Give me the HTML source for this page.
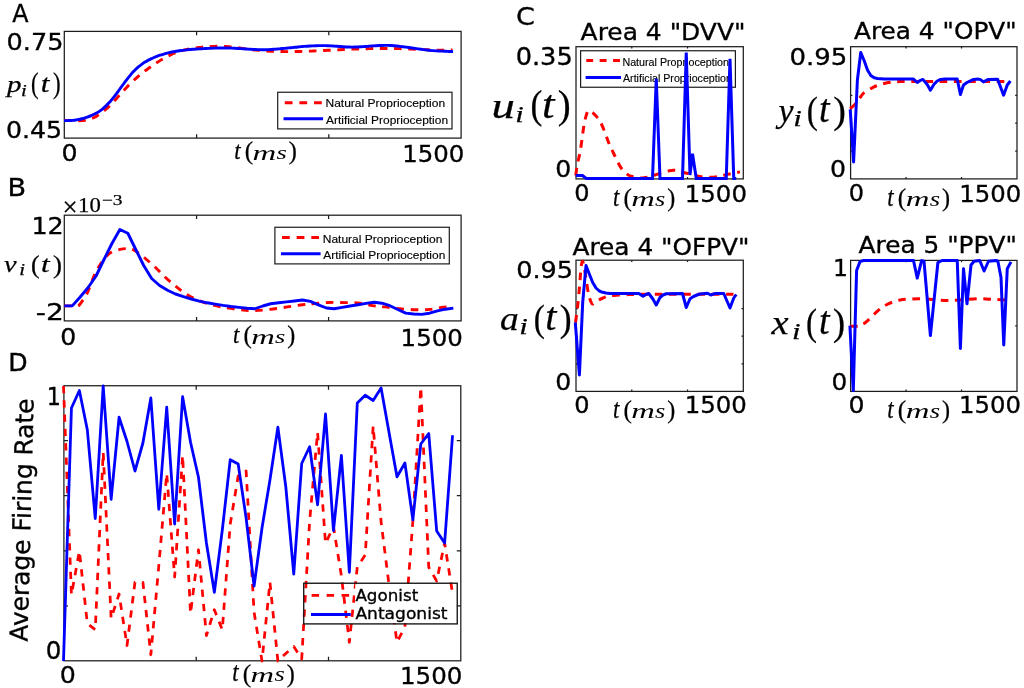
<!DOCTYPE html>
<html lang="en">
<head>
<meta charset="utf-8">
<title>Figure: natural vs artificial proprioception</title>
<style>
html,body{margin:0;padding:0;background:#fff;}
body{width:1024px;height:688px;overflow:hidden;}
svg{display:block;}
.sans{font-family:"DejaVu Sans","Liberation Sans",sans-serif;fill:#000;stroke:#000;stroke-width:0.35px;}
.arial{font-family:"Liberation Sans","DejaVu Sans",sans-serif;fill:#000;stroke:#000;stroke-width:0.15px;}
.math{font-family:"Liberation Serif","DejaVu Serif",serif;fill:#000;stroke:#000;stroke-width:0.25px;}
.thin{stroke-width:0;}
.it{font-style:italic;}
.up{font-style:normal;}
</style>
</head>
<body>
<svg width="1024" height="688" viewBox="0 0 1024 688">
<rect width="1024" height="688" fill="#fff"/>
<rect x="64.3" y="31.4" width="396.8" height="106.7" fill="none" stroke="#1c1c1c" stroke-width="1.25"/>
<path d="M196.6,138.1 v-3.8 M196.6,31.4 v3.8 M328.8,138.1 v-3.8 M328.8,31.4 v3.8" stroke="#1c1c1c" stroke-width="1.25" fill="none"/>
<path d="M64,120.56 C64.5,120.55 66,120.51 67,120.51 C68,120.51 69,120.54 70,120.57 C71,120.59 72,120.64 73,120.67 C74,120.7 75,120.73 76,120.75 C77,120.76 78,120.77 79,120.75 C80,120.73 81,120.69 82,120.61 C83,120.54 84,120.43 85,120.28 C86,120.12 87,119.93 88,119.68 C89,119.43 90,119.13 91,118.76 C92,118.4 93,117.97 94,117.49 C95,117.01 96,116.47 97,115.88 C98,115.29 99,114.64 100,113.94 C101,113.25 102,112.5 103,111.7 C104,110.91 105,110.07 106,109.18 C107,108.29 108,107.35 109,106.38 C110,105.41 111,104.39 112,103.36 C113,102.32 114,101.24 115,100.16 C116,99.08 117,97.97 118,96.87 C119,95.76 120,94.64 121,93.53 C122,92.42 123,91.31 124,90.22 C125,89.13 126,88.05 127,87 C128,85.95 129,84.92 130,83.93 C131,82.93 132,81.97 133,81.03 C134,80.1 135,79.19 136,78.31 C137,77.42 138,76.57 139,75.73 C140,74.89 141,74.08 142,73.28 C143,72.49 144,71.71 145,70.95 C146,70.19 147,69.45 148,68.72 C149,67.99 150,67.28 151,66.58 C152,65.87 153,65.18 154,64.51 C155,63.83 156,63.17 157,62.52 C158,61.87 159,61.24 160,60.63 C161,60.02 162,59.42 163,58.85 C164,58.27 165,57.72 166,57.18 C167,56.65 168,56.13 169,55.64 C170,55.15 171,54.68 172,54.24 C173,53.8 174,53.38 175,52.99 C176,52.6 177,52.23 178,51.89 C179,51.55 180,51.23 181,50.93 C182,50.64 183,50.37 184,50.11 C185,49.86 186,49.62 187,49.4 C188,49.19 189,48.99 190,48.8 C191,48.61 192,48.45 193,48.29 C194,48.13 195,47.99 196,47.85 C197,47.72 198,47.59 199,47.48 C200,47.36 201,47.25 202,47.15 C203,47.05 204,46.96 205,46.88 C206,46.79 207,46.72 208,46.65 C209,46.58 210,46.53 211,46.48 C212,46.43 213,46.39 214,46.36 C215,46.34 216,46.32 217,46.31 C218,46.31 219,46.31 220,46.33 C221,46.34 222,46.37 223,46.41 C224,46.45 225,46.51 226,46.57 C227,46.63 228,46.71 229,46.8 C230,46.89 231,46.98 232,47.09 C233,47.19 234,47.31 235,47.42 C236,47.54 237,47.67 238,47.79 C239,47.92 240,48.06 241,48.19 C242,48.32 243,48.46 244,48.59 C245,48.73 246,48.86 247,49 C248,49.13 249,49.26 250,49.39 C251,49.51 252,49.64 253,49.75 C254,49.87 255,49.98 256,50.08 C257,50.18 258,50.28 259,50.37 C260,50.46 261,50.55 262,50.63 C263,50.71 264,50.78 265,50.85 C266,50.92 267,50.98 268,51.04 C269,51.1 270,51.15 271,51.2 C272,51.25 273,51.29 274,51.33 C275,51.37 276,51.4 277,51.43 C278,51.46 279,51.49 280,51.51 C281,51.53 282,51.55 283,51.56 C284,51.58 285,51.58 286,51.59 C287,51.6 288,51.6 289,51.6 C290,51.59 291,51.59 292,51.58 C293,51.57 294,51.56 295,51.55 C296,51.53 297,51.51 298,51.49 C299,51.47 300,51.45 301,51.43 C302,51.4 303,51.37 304,51.34 C305,51.31 306,51.28 307,51.25 C308,51.21 309,51.18 310,51.14 C311,51.1 312,51.06 313,51.02 C314,50.98 315,50.94 316,50.89 C317,50.85 318,50.8 319,50.76 C320,50.71 321,50.66 322,50.61 C323,50.57 324,50.52 325,50.47 C326,50.42 327,50.37 328,50.32 C329,50.27 330,50.22 331,50.16 C332,50.11 333,50.06 334,50.01 C335,49.96 336,49.91 337,49.86 C338,49.81 339,49.76 340,49.71 C341,49.66 342,49.61 343,49.57 C344,49.52 345,49.47 346,49.43 C347,49.38 348,49.34 349,49.29 C350,49.25 351,49.21 352,49.17 C353,49.13 354,49.09 355,49.05 C356,49.02 357,48.98 358,48.95 C359,48.91 360,48.88 361,48.85 C362,48.82 363,48.79 364,48.77 C365,48.74 366,48.71 367,48.69 C368,48.67 369,48.64 370,48.62 C371,48.6 372,48.59 373,48.57 C374,48.55 375,48.54 376,48.53 C377,48.52 378,48.51 379,48.5 C380,48.49 381,48.48 382,48.48 C383,48.48 384,48.48 385,48.48 C386,48.48 387,48.48 388,48.48 C389,48.49 390,48.5 391,48.51 C392,48.51 393,48.53 394,48.54 C395,48.55 396,48.57 397,48.59 C398,48.61 399,48.63 400,48.65 C401,48.68 402,48.7 403,48.73 C404,48.76 405,48.79 406,48.83 C407,48.86 408,48.9 409,48.94 C410,48.98 411,49.02 412,49.06 C413,49.11 414,49.16 415,49.21 C416,49.26 417,49.31 418,49.36 C419,49.41 420,49.46 421,49.52 C422,49.57 423,49.62 424,49.67 C425,49.72 426,49.77 427,49.81 C428,49.86 429,49.9 430,49.94 C431,49.98 432,50.01 433,50.04 C434,50.07 435,50.09 436,50.11 C437,50.13 438,50.14 439,50.14 C440,50.15 441,50.14 442,50.13 C443,50.12 444,50.1 445,50.08 C446,50.05 447,50.02 448,50 C449,49.97 450.25,49.93 451,49.91 C451.75,49.88 452.25,49.87 452.5,49.86" fill="none" stroke="#ff0000" stroke-width="2.9" stroke-linejoin="round" stroke-dasharray="7.6,6.6"/>
<path d="M64,120.6 C64.5,120.61 66,120.66 67,120.65 C68,120.65 69,120.62 70,120.57 C71,120.52 72,120.44 73,120.34 C74,120.24 75,120.12 76,119.97 C77,119.82 78,119.64 79,119.44 C80,119.24 81,119.01 82,118.75 C83,118.49 84,118.21 85,117.9 C86,117.58 87,117.24 88,116.87 C89,116.5 90,116.1 91,115.67 C92,115.24 93,114.78 94,114.29 C95,113.8 96,113.28 97,112.71 C98,112.13 99,111.52 100,110.83 C101,110.15 102,109.4 103,108.58 C104,107.76 105,106.88 106,105.92 C107,104.96 108,103.92 109,102.83 C110,101.73 111,100.56 112,99.35 C113,98.14 114,96.85 115,95.55 C116,94.24 117,92.88 118,91.52 C119,90.16 120,88.76 121,87.38 C122,86.01 123,84.62 124,83.27 C125,81.92 126,80.59 127,79.3 C128,78.01 129,76.76 130,75.56 C131,74.36 132,73.2 133,72.1 C134,71.01 135,69.97 136,69.01 C137,68.05 138,67.16 139,66.34 C140,65.51 141,64.77 142,64.07 C143,63.36 144,62.72 145,62.11 C146,61.49 147,60.92 148,60.37 C149,59.83 150,59.32 151,58.84 C152,58.35 153,57.9 154,57.48 C155,57.05 156,56.65 157,56.27 C158,55.89 159,55.54 160,55.21 C161,54.87 162,54.56 163,54.27 C164,53.97 165,53.69 166,53.43 C167,53.16 168,52.92 169,52.69 C170,52.45 171,52.24 172,52.03 C173,51.83 174,51.64 175,51.46 C176,51.28 177,51.12 178,50.96 C179,50.81 180,50.67 181,50.53 C182,50.4 183,50.27 184,50.16 C185,50.04 186,49.93 187,49.83 C188,49.73 189,49.64 190,49.55 C191,49.46 192,49.38 193,49.3 C194,49.23 195,49.15 196,49.08 C197,49.01 198,48.95 199,48.88 C200,48.82 201,48.76 202,48.7 C203,48.64 204,48.58 205,48.52 C206,48.47 207,48.41 208,48.36 C209,48.31 210,48.26 211,48.22 C212,48.18 213,48.14 214,48.11 C215,48.07 216,48.05 217,48.02 C218,48 219,47.98 220,47.97 C221,47.96 222,47.95 223,47.95 C224,47.95 225,47.96 226,47.98 C227,47.99 228,48.02 229,48.05 C230,48.08 231,48.11 232,48.16 C233,48.2 234,48.25 235,48.31 C236,48.36 237,48.42 238,48.48 C239,48.54 240,48.61 241,48.67 C242,48.74 243,48.8 244,48.87 C245,48.94 246,49 247,49.07 C248,49.13 249,49.2 250,49.25 C251,49.31 252,49.37 253,49.42 C254,49.47 255,49.52 256,49.56 C257,49.59 258,49.63 259,49.65 C260,49.68 261,49.7 262,49.7 C263,49.71 264,49.71 265,49.69 C266,49.68 267,49.66 268,49.62 C269,49.59 270,49.54 271,49.49 C272,49.43 273,49.37 274,49.3 C275,49.23 276,49.15 277,49.07 C278,48.99 279,48.9 280,48.81 C281,48.72 282,48.62 283,48.52 C284,48.42 285,48.31 286,48.21 C287,48.11 288,48 289,47.89 C290,47.79 291,47.68 292,47.58 C293,47.47 294,47.37 295,47.27 C296,47.16 297,47.06 298,46.97 C299,46.87 300,46.77 301,46.68 C302,46.59 303,46.51 304,46.42 C305,46.34 306,46.26 307,46.19 C308,46.12 309,46.05 310,45.99 C311,45.93 312,45.87 313,45.83 C314,45.78 315,45.74 316,45.7 C317,45.67 318,45.64 319,45.63 C320,45.61 321,45.6 322,45.6 C323,45.61 324,45.62 325,45.64 C326,45.66 327,45.69 328,45.73 C329,45.77 330,45.83 331,45.89 C332,45.95 333,46.02 334,46.09 C335,46.17 336,46.25 337,46.32 C338,46.4 339,46.48 340,46.55 C341,46.63 342,46.7 343,46.77 C344,46.83 345,46.89 346,46.94 C347,46.99 348,47.03 349,47.05 C350,47.08 351,47.09 352,47.09 C353,47.08 354,47.07 355,47.04 C356,47.01 357,46.97 358,46.93 C359,46.88 360,46.83 361,46.77 C362,46.71 363,46.64 364,46.57 C365,46.5 366,46.42 367,46.35 C368,46.27 369,46.2 370,46.12 C371,46.05 372,45.97 373,45.9 C374,45.83 375,45.77 376,45.71 C377,45.65 378,45.59 379,45.55 C380,45.5 381,45.46 382,45.44 C383,45.41 384,45.39 385,45.39 C386,45.39 387,45.4 388,45.42 C389,45.45 390,45.49 391,45.55 C392,45.6 393,45.67 394,45.75 C395,45.83 396,45.92 397,46.01 C398,46.11 399,46.22 400,46.34 C401,46.45 402,46.58 403,46.71 C404,46.84 405,46.97 406,47.11 C407,47.25 408,47.39 409,47.53 C410,47.68 411,47.83 412,47.97 C413,48.12 414,48.27 415,48.41 C416,48.56 417,48.71 418,48.85 C419,48.99 420,49.13 421,49.27 C422,49.4 423,49.54 424,49.66 C425,49.79 426,49.91 427,50.02 C428,50.14 429,50.25 430,50.34 C431,50.44 432,50.53 433,50.61 C434,50.69 435,50.76 436,50.83 C437,50.89 438,50.95 439,51 C440,51.06 441,51.1 442,51.15 C443,51.2 444,51.24 445,51.28 C446,51.32 447,51.36 448,51.4 C449,51.44 450.15,51.48 451,51.51 C451.85,51.55 452.75,51.59 453.1,51.6" fill="none" stroke="#0000ff" stroke-width="2.9" stroke-linejoin="round"/>
<rect x="277.7" y="92.25" width="174.3" height="36.65" fill="#fff" stroke="#1c1c1c" stroke-width="1.2"/>
<line x1="284.75" y1="102.75" x2="322.25" y2="102.75" stroke="#ff0000" stroke-width="3" stroke-dasharray="7.75,6.9"/>
<line x1="283.5" y1="118.75" x2="323.1" y2="118.75" stroke="#0000ff" stroke-width="2.8"/>
<rect x="64.3" y="215.2" width="396.8" height="105.7" fill="none" stroke="#1c1c1c" stroke-width="1.25"/>
<path d="M196.6,320.9 v-3.8 M196.6,215.2 v3.8 M328.6,320.9 v-3.8 M328.6,215.2 v3.8" stroke="#1c1c1c" stroke-width="1.25" fill="none"/>
<path d="M64.3,305.9 C66.25,305.9 73.59,305.95 76,305.9 C78.41,305.85 77.58,306.58 78.75,305.6 C79.92,304.62 81.54,302.18 83,300 C84.46,297.82 85.5,296.88 87.5,292.5 C89.5,288.12 92.5,278.96 95,273.75 C97.5,268.54 100,264.69 102.5,261.25 C105,257.81 107.08,255.07 110,253.1 C112.92,251.12 117,250.12 120,249.4 C123,248.68 125.5,248.53 128,248.75 C130.5,248.97 132.17,249.17 135,250.75 C137.83,252.33 141.67,255.54 145,258.25 C148.33,260.96 151.67,263.88 155,267 C158.33,270.12 161.67,273.88 165,277 C168.33,280.12 171.67,283.04 175,285.75 C178.33,288.46 181.25,290.88 185,293.25 C188.75,295.62 192.92,298.04 197.5,300 C202.08,301.96 207.92,303.75 212.5,305 C217.08,306.25 220.42,306.73 225,307.5 C229.58,308.27 235.21,309.08 240,309.6 C244.79,310.12 248.75,310.63 253.75,310.6 C258.75,310.57 264.38,310.02 270,309.4 C275.62,308.78 282.08,307.67 287.5,306.9 C292.92,306.12 298.33,305.27 302.5,304.75 C306.67,304.23 308.25,304.12 312.5,303.75 C316.75,303.38 322.58,302.69 328,302.5 C333.42,302.31 339.67,302.5 345,302.6 C350.33,302.7 355.42,302.6 360,303.1 C364.58,303.6 368.33,304.97 372.5,305.6 C376.67,306.23 380.42,306.38 385,306.9 C389.58,307.42 394.79,308.27 400,308.75 C405.21,309.23 411.25,309.64 416.25,309.75 C421.25,309.86 425.83,309.77 430,309.4 C434.17,309.02 438.12,307.97 441.25,307.5 C444.38,307.03 447.5,306.75 448.75,306.6" fill="none" stroke="#ff0000" stroke-width="2.9" stroke-linejoin="round" stroke-dasharray="7.6,6.6"/>
<polyline points="64.3,305.9 72.24,305.9 80.18,297 88.12,287.5 96.06,276 104,259.5 111.94,243.5 119.88,229.5 127.82,233.25 135.76,249.5 143.7,265.5 151.64,278.5 159.58,285.5 167.52,290.3 175.46,294 183.4,296.6 191.34,299 199.28,301.2 207.22,302.8 215.16,304.1 223.1,305.4 231.04,306.5 238.98,307.4 246.92,308.2 254.86,308.75 262.8,306 270.74,303.75 278.68,302.8 286.62,301.9 294.56,301 302.5,300 310.44,301.4 318.38,304.8 326.32,308 334.26,308.75 342.2,307.4 350.14,306 358.08,304.7 366.02,303.4 373.96,302.25 381.9,303.2 389.84,305.7 397.78,309.5 405.72,313.1 413.66,314 421.6,314.4 429.54,313.2 437.48,310.8 445.42,309.2 453.36,308.1" fill="none" stroke="#0000ff" stroke-width="2.9" stroke-linejoin="round"/>
<rect x="274.9" y="227.25" width="174.4" height="36.65" fill="#fff" stroke="#1c1c1c" stroke-width="1.2"/>
<line x1="282" y1="237.5" x2="319.75" y2="237.5" stroke="#ff0000" stroke-width="3" stroke-dasharray="7.75,6.9"/>
<line x1="281" y1="253.75" x2="320.6" y2="253.75" stroke="#0000ff" stroke-width="2.8"/>
<rect x="63.9" y="385.75" width="396.9" height="275.05" fill="none" stroke="#1c1c1c" stroke-width="1.25"/>
<path d="M196.2,660.8 v-4 M196.2,385.75 v4 M328.5,660.8 v-4 M328.5,385.75 v4 M63.9,440.7 h4 M460.8,440.7 h-4 M63.9,495.7 h4 M460.8,495.7 h-4 M63.9,550.8 h4 M460.8,550.8 h-4 M63.9,605.8 h4 M460.8,605.8 h-4" stroke="#1c1c1c" stroke-width="1.25" fill="none"/>
<polyline points="63.5,386 71.44,594.75 79.38,551 87.32,623.5 95.26,629.75 103.2,452.25 111.14,618.5 119.08,594 127.02,645.5 134.96,582.25 142.9,582.25 150.84,654.75 158.78,566 166.72,473.5 174.66,577 182.6,455.5 190.54,613.5 198.48,549.75 206.42,635.5 214.36,609.75 222.3,629.75 230.24,524 238.18,476 246.12,471 254.06,612 262,661 269.94,582.25 277.88,661 285.82,653.5 293.76,646.5 301.7,659 309.64,521 317.58,432.25 325.52,543.5 333.46,526.5 341.4,576 349.34,642.25 357.28,567 365.22,555 373.16,426 381.1,522 389.04,585 396.98,642.25 404.92,627 412.86,521 420.8,387.25 428.74,567.25 436.68,581 444.62,543 452.56,593.5" fill="none" stroke="#ff0000" stroke-width="2.75" stroke-linejoin="round" stroke-dasharray="7.3,7.0"/>
<polyline points="63.5,661 71.44,408 79.38,390.5 87.32,429.75 95.26,518.5 103.2,386 111.14,499.25 119.08,417.25 127.02,441.5 134.96,471 142.9,443 150.84,398 158.78,509.25 166.72,407.25 174.66,524 182.6,396.75 190.54,442.25 198.48,477.25 206.42,543 214.36,592.25 222.3,530 230.24,459.75 238.18,464 246.12,518 254.06,586 262,528 269.94,480 277.88,427.25 285.82,487 293.76,574 301.7,463.5 309.64,446.75 317.58,504.75 325.52,414 333.46,530.5 341.4,455.5 349.34,572.25 357.28,403 365.22,395.25 373.16,400.5 381.1,388 389.04,432.5 396.98,476.75 404.92,463 412.86,519.75 420.8,444 428.74,433.5 436.68,531 444.62,543 452.56,435.25" fill="none" stroke="#0000ff" stroke-width="2.8" stroke-linejoin="round"/>
<rect x="303.7" y="583.25" width="153.55" height="40.65" fill="none" stroke="#1c1c1c" stroke-width="1.4"/>
<line x1="311.6" y1="595.4" x2="349.75" y2="595.4" stroke="#ff0000" stroke-width="2.8" stroke-dasharray="7.5,7.5"/>
<line x1="311" y1="614.4" x2="350.75" y2="614.4" stroke="#0000ff" stroke-width="3"/>
<rect x="355.2" y="584.2" width="65" height="20.3" fill="#fff"/>
<rect x="355.2" y="604" width="94.4" height="19" fill="#fff"/>
<g transform="translate(30.6,520.2) rotate(-88.52)"><text x="0" y="0" font-size="24.9" text-anchor="middle" class="sans">Average Firing Rate</text></g>
<rect x="580.6" y="50.75" width="154.8" height="36.5" fill="none" stroke="#1c1c1c" stroke-width="1.2"/>
<line x1="586.25" y1="60.6" x2="620" y2="60.6" stroke="#ff0000" stroke-width="3" stroke-dasharray="6.9,6.5"/>
<line x1="585.6" y1="77.5" x2="621" y2="77.5" stroke="#0000ff" stroke-width="3"/>
<g transform="matrix(0.9327 0 0 0.9500 622.400 65.725)"><text x="0" y="0" font-size="11.5" class="arial">Natural Proprioception</text></g>
<g transform="matrix(0.9274 0 0 0.9545 623.000 82.014)"><text x="0" y="0" font-size="11.5" class="arial">Artificial Proprioception</text></g>
<rect x="576" y="46.7" width="167.3" height="132.2" fill="none" stroke="#1c1c1c" stroke-width="1.25"/>
<path d="M631.77,178.9 v-1.8 M631.77,46.7 v1.8 M687.53,178.9 v-1.8 M687.53,46.7 v1.8" stroke="#1c1c1c" stroke-width="1.25" fill="none"/>
<path d="M575.75,175.5 C576.04,173.54 576.79,167.58 577.5,163.75 C578.21,159.92 579.27,156.46 580,152.5 C580.73,148.54 581.23,144.58 581.9,140 C582.57,135.42 583.23,129.25 584,125 C584.77,120.75 585.71,116.92 586.5,114.5 C587.29,112.08 587.75,110.83 588.75,110.5 C589.75,110.17 591.25,111.54 592.5,112.5 C593.75,113.46 595,114.79 596.25,116.25 C597.5,117.71 598.71,118.96 600,121.25 C601.29,123.54 602.65,126.67 604,130 C605.35,133.33 606.85,138.08 608.1,141.25 C609.35,144.42 610.35,146.5 611.5,149 C612.65,151.5 613.92,154 615,156.25 C616.08,158.5 616.96,160.53 618,162.5 C619.04,164.47 620.17,166.55 621.25,168.1 C622.33,169.65 623.46,170.75 624.5,171.8 C625.54,172.85 626.42,173.67 627.5,174.4 C628.58,175.13 629.75,175.72 631,176.2 C632.25,176.67 633.5,176.95 635,177.25 C636.5,177.55 638.5,177.91 640,178 C641.5,178.09 642.54,177.98 644,177.8 C645.46,177.62 646.92,177.37 648.75,176.9 C650.58,176.43 652.71,175.73 655,175 C657.29,174.27 659.79,173.27 662.5,172.5 C665.21,171.73 668.75,170.72 671.25,170.4 C673.75,170.08 675.42,170.25 677.5,170.6 C679.58,170.95 681.25,171.87 683.75,172.5 C686.25,173.13 689.79,173.72 692.5,174.4 C695.21,175.08 697.08,176.12 700,176.6 C702.92,177.07 706.67,177.31 710,177.25 C713.33,177.19 717.08,176.72 720,176.25 C722.92,175.78 724.17,175.12 727.5,174.4 C730.83,173.68 737.92,172.32 740,171.9" fill="none" stroke="#ff0000" stroke-width="3.0" stroke-linejoin="round" stroke-dasharray="7.6,6.6"/>
<polyline points="575.75,175.5 582.5,175.5 586.25,178.5 652.5,178.5 656.25,78.75 660,178.5 682.5,178.5 686.25,52.5 690,175 692.5,153.75 696.25,178.5 726.25,178.5 730,58.75 733.75,178.5 736.25,178.5" fill="none" stroke="#0000ff" stroke-width="3.0" stroke-linejoin="miter"/>
<rect x="850.6" y="46.7" width="166.4" height="132.2" fill="none" stroke="#1c1c1c" stroke-width="1.25"/>
<path d="M906.07,178.9 v-1.8 M906.07,46.7 v1.8 M961.53,178.9 v-1.8 M961.53,46.7 v1.8 M850.6,151.07 h1.8 M1017,151.07 h-1.8 M850.6,123.24 h1.8 M1017,123.24 h-1.8 M850.6,95.41 h1.8 M1017,95.41 h-1.8" stroke="#1c1c1c" stroke-width="1.25" fill="none"/>
<path d="M850.2,108.75 C851.08,107.92 853.78,105.71 855.5,103.75 C857.22,101.79 859.25,98.67 860.5,97 C861.75,95.33 861.92,94.83 863,93.75 C864.08,92.67 865.54,91.44 867,90.5 C868.46,89.56 870.25,88.85 871.75,88.1 C873.25,87.35 874.54,86.62 876,86 C877.46,85.38 878.67,84.93 880.5,84.4 C882.33,83.87 884.92,83.22 887,82.8 C889.08,82.38 890.83,82.1 893,81.9 C895.17,81.7 897.5,81.67 900,81.6 C902.5,81.53 900.83,81.52 908,81.5 C915.17,81.48 925.92,81.5 943,81.5 C960.08,81.5 999.25,81.5 1010.5,81.5" fill="none" stroke="#ff0000" stroke-width="3.0" stroke-linejoin="round" stroke-dasharray="7.6,6.6"/>
<polyline points="850.2,109.4 853.6,161.9 857.4,80 860.75,52.5 864.1,60.5 867.5,70 870.8,75.5 874.2,77.8 877.5,78.5 884,79 913.5,79 917.25,82.5 920.5,80.3 922.9,79.4 927.2,84.5 930.4,90.3 934,84.3 937.2,81 940.5,79.4 945,79 957.25,79 960.4,94.5 963.5,85 967,82.5 970.5,80.8 973.5,79.4 978.5,79.1 980.5,79.6 983.5,81.9 987,80 988.5,79.4 997.6,79.2 1003.6,95.2 1007.25,85 1010.4,81" fill="none" stroke="#0000ff" stroke-width="3.0" stroke-linejoin="round"/>
<rect x="576" y="260.2" width="167.3" height="131.2" fill="none" stroke="#1c1c1c" stroke-width="1.25"/>
<path d="M631.77,391.4 v-1.8 M631.77,260.2 v1.8 M687.53,391.4 v-1.8 M687.53,260.2 v1.8 M576,363.78 h1.8 M743.3,363.78 h-1.8 M576,336.16 h1.8 M743.3,336.16 h-1.8 M576,308.54 h1.8 M743.3,308.54 h-1.8" stroke="#1c1c1c" stroke-width="1.25" fill="none"/>
<path d="M575.5,322.5 C575.83,320 576.83,313.42 577.5,307.5 C578.17,301.58 578.92,293.58 579.5,287 C580.08,280.42 580.5,272.29 581,268 C581.5,263.71 581.95,261.25 582.5,261.25 C583.05,261.25 583.67,264.88 584.3,268 C584.92,271.12 585.51,275.5 586.25,280 C586.99,284.5 587.81,291.08 588.75,295 C589.69,298.92 590.86,302.25 591.9,303.5 C592.94,304.75 593.86,303.08 595,302.5 C596.14,301.92 597.42,300.75 598.75,300 C600.08,299.25 601.46,298.62 603,298 C604.54,297.38 605.83,296.72 608,296.25 C610.17,295.78 613.17,295.45 616,295.2 C618.83,294.95 619.33,294.91 625,294.75 C630.67,294.59 630.83,294.33 650,294.25 C669.17,294.17 725,294.25 740,294.25" fill="none" stroke="#ff0000" stroke-width="3.0" stroke-linejoin="round" stroke-dasharray="7.6,6.6"/>
<polyline points="575.3,322.5 579.4,375 582.7,302.5 586,265.6 589.3,274 592.7,282.5 596,288 599.3,291 602.7,292.3 606,293 610,293.5 638.75,293.5 643,296.25 646.5,294.2 648.75,293.5 652.9,299 656.25,305 660,297.5 663,295 666.25,293.75 682.5,293.5 686.25,307.5 690,298.75 693.5,296.5 697,295 700,294 707.5,293.25 710.75,295 714,293.8 716.25,293.5 723.75,293.5 730,308 733.75,298 736.25,294.5" fill="none" stroke="#0000ff" stroke-width="3.0" stroke-linejoin="round"/>
<rect x="850.6" y="260.4" width="166.4" height="131" fill="none" stroke="#1c1c1c" stroke-width="1.25"/>
<path d="M906.07,391.4 v-1.8 M906.07,260.4 v1.8 M961.53,391.4 v-1.8 M961.53,260.4 v1.8 M850.6,325.9 h1.8 M1017,325.9 h-1.8" stroke="#1c1c1c" stroke-width="1.25" fill="none"/>
<path d="M849.9,326.25 C851.25,326.25 856.15,326.46 858,326.25 C859.85,326.04 859.75,325.62 861,325 C862.25,324.38 863.83,323.75 865.5,322.5 C867.17,321.25 868.92,319.48 871,317.5 C873.08,315.52 875.67,312.6 878,310.6 C880.33,308.6 882.5,306.95 885,305.5 C887.5,304.05 890.5,302.82 893,301.9 C895.5,300.98 897.5,300.45 900,300 C902.5,299.55 904.5,299.41 908,299.2 C911.5,298.99 916.5,298.65 921,298.75 C925.5,298.85 930.42,299.49 935,299.8 C939.58,300.11 943.83,300.6 948.5,300.6 C953.17,300.6 958,300.11 963,299.8 C968,299.49 973.17,298.8 978.5,298.75 C983.83,298.7 989.58,299.25 995,299.5 C1000.42,299.75 1008.33,300.12 1011,300.25" fill="none" stroke="#ff0000" stroke-width="3.0" stroke-linejoin="round" stroke-dasharray="7.6,6.6"/>
<polyline points="849.9,325.6 853.3,390.6 856.6,270.5 860,261.6 863.5,260.5 913.5,260.5 917.25,278.1 921.6,260.6 924,261.25 930.4,335.6 937.9,262.5 942.25,260.5 957.25,260.5 960.4,348.5 963.5,268.75 967,303.75 971,265 974.1,261.25 979.75,260.5 984.1,271 988.5,261.25 996,260.5 997.9,261.25 1001,277.5 1003.75,345 1007.25,268.75 1011,261.9" fill="none" stroke="#0000ff" stroke-width="3.0" stroke-linejoin="round"/>
<g transform="matrix(0.9701 0 0 0.9808 12.250 21.655)"><text x="0" y="0" font-size="24.5" class="sans">A</text></g>
<g transform="matrix(1.0422 0 0 0.9553 6.537 49.922)"><text x="0" y="0" font-size="24.5" class="sans">0.75</text></g>
<g transform="matrix(1.0294 0 0 0.9553 5.956 137.622)"><text x="0" y="0" font-size="24.5" class="sans">0.45</text></g>
<g transform="matrix(1.0314 0 0 0.9737 61.553 160.513)"><text x="0" y="0" font-size="24.5" class="sans">0</text></g>
<g transform="matrix(0.9974 0 0 0.9737 402.256 162.413)"><text x="0" y="0" font-size="24.5" class="sans">1500</text></g>
<g transform="matrix(1.1077 0 0 0.9808 7.508 196.155)"><text x="0" y="0" font-size="24.5" class="sans">B</text></g>
<g transform="matrix(1.0377 0 0 0.9680 31.406 233.658)"><text x="0" y="0" font-size="24.5" class="sans">12</text></g>
<g transform="matrix(1.1459 0 0 0.9680 35.754 319.508)"><text x="0" y="0" font-size="24.5" class="sans">-2</text></g>
<g transform="matrix(1.0275 0 0 0.9526 60.359 344.524)"><text x="0" y="0" font-size="24.5" class="sans">0</text></g>
<g transform="matrix(0.9983 0 0 0.9737 400.604 346.113)"><text x="0" y="0" font-size="24.5" class="sans">1500</text></g>
<g transform="matrix(1.0262 0 0 0.9808 8.291 370.755)"><text x="0" y="0" font-size="24.5" class="sans">D</text></g>
<g transform="matrix(0.9091 0 0 0.9863 46.727 404.753)"><text x="0" y="0" font-size="24.5" class="sans">1</text></g>
<g transform="matrix(1.0000 0 0 0.9868 45.750 659.257)"><text x="0" y="0" font-size="24.5" class="sans">0</text></g>
<g transform="matrix(1.0314 0 0 0.9684 59.703 683.016)"><text x="0" y="0" font-size="24.5" class="sans">0</text></g>
<g transform="matrix(1.0000 0 0 0.9658 400.000 684.267)"><text x="0" y="0" font-size="24.5" class="sans">1500</text></g>
<g transform="matrix(0.9960 0 0 0.9403 355.400 600.974)"><text x="0" y="0" font-size="16.8" class="sans">Agonist</text></g>
<g transform="matrix(1.0177 0 0 0.9373 355.400 618.785)"><text x="0" y="0" font-size="16.8" class="sans">Antagonist</text></g>
<g transform="matrix(1.1017 0 0 1.0079 516.123 24.896)"><text x="0" y="0" font-size="24.5" class="sans">C</text></g>
<g transform="matrix(1.0172 0 0 0.9595 580.600 39.520)"><text x="0" y="0" font-size="24.5" class="sans">Area 4 "DVV"</text></g>
<g transform="matrix(1.0461 0 0 1.0053 515.681 65.097)"><text x="0" y="0" font-size="24.5" class="sans">0.35</text></g>
<g transform="matrix(1.0275 0 0 0.9474 555.359 177.276)"><text x="0" y="0" font-size="24.5" class="sans">0</text></g>
<g transform="matrix(0.9804 0 0 0.9553 574.129 201.422)"><text x="0" y="0" font-size="24.5" class="sans">0</text></g>
<g transform="matrix(0.9974 0 0 0.9658 684.756 201.617)"><text x="0" y="0" font-size="24.5" class="sans">1500</text></g>
<g transform="matrix(1.0110 0 0 0.9632 854.000 39.418)"><text x="0" y="0" font-size="24.5" class="sans">Area 4 "OPV"</text></g>
<g transform="matrix(1.0618 0 0 0.9737 789.507 64.913)"><text x="0" y="0" font-size="24.5" class="sans">0.95</text></g>
<g transform="matrix(1.0275 0 0 0.9474 829.959 177.276)"><text x="0" y="0" font-size="24.5" class="sans">0</text></g>
<g transform="matrix(0.9804 0 0 0.9553 848.729 201.422)"><text x="0" y="0" font-size="24.5" class="sans">0</text></g>
<g transform="matrix(0.9949 0 0 0.9658 959.213 201.617)"><text x="0" y="0" font-size="24.5" class="sans">1500</text></g>
<g transform="matrix(1.0119 0 0 0.9632 572.500 254.518)"><text x="0" y="0" font-size="24.5" class="sans">Area 4 "OFPV"</text></g>
<g transform="matrix(1.0441 0 0 0.9605 516.184 278.020)"><text x="0" y="0" font-size="24.5" class="sans">0.95</text></g>
<g transform="matrix(1.0275 0 0 0.9553 555.359 389.922)"><text x="0" y="0" font-size="24.5" class="sans">0</text></g>
<g transform="matrix(0.9804 0 0 0.9526 574.129 413.024)"><text x="0" y="0" font-size="24.5" class="sans">0</text></g>
<g transform="matrix(0.9974 0 0 0.9605 684.756 413.020)"><text x="0" y="0" font-size="24.5" class="sans">1500</text></g>
<g transform="matrix(1.0123 0 0 0.9703 858.600 253.215)"><text x="0" y="0" font-size="24.5" class="sans">Area 5 "PPV"</text></g>
<g transform="matrix(0.9636 0 0 0.9726 833.091 276.007)"><text x="0" y="0" font-size="24.5" class="sans">1</text></g>
<g transform="matrix(1.0118 0 0 0.9553 831.582 389.922)"><text x="0" y="0" font-size="24.5" class="sans">0</text></g>
<g transform="matrix(1.0275 0 0 0.9526 848.459 413.024)"><text x="0" y="0" font-size="24.5" class="sans">0</text></g>
<g transform="matrix(0.9940 0 0 0.9605 959.115 413.020)"><text x="0" y="0" font-size="24.5" class="sans">1500</text></g>
<g transform="matrix(1.0456 0 0 0.9727 325.466 107.168)"><text x="0" y="0" font-size="11.5" class="arial">Natural Proprioception</text></g>
<g transform="matrix(1.0385 0 0 0.9727 326.000 123.568)"><text x="0" y="0" font-size="11.5" class="arial">Artificial Proprioception</text></g>
<g transform="matrix(1.0456 0 0 0.9727 322.716 242.568)"><text x="0" y="0" font-size="11.5" class="arial">Natural Proprioception</text></g>
<g transform="matrix(1.0385 0 0 0.9727 323.250 258.818)"><text x="0" y="0" font-size="11.5" class="arial">Artificial Proprioception</text></g>
<text class="math"><tspan x="6.95" y="92.18" font-size="24.08" textLength="14.49" lengthAdjust="spacingAndGlyphs" class="it">p</tspan><tspan x="20.94" y="96.03" font-size="15.94" textLength="5.77" lengthAdjust="spacingAndGlyphs" class="it">i</tspan><tspan x="30.90" y="93.10" font-size="28.49" textLength="7.60" lengthAdjust="spacingAndGlyphs" class="up">(</tspan><tspan x="40.70" y="91.60" font-size="25.91" textLength="8.68" lengthAdjust="spacingAndGlyphs" class="it">t</tspan><tspan x="53.02" y="93.10" font-size="28.49" textLength="7.60" lengthAdjust="spacingAndGlyphs" class="up">)</tspan></text>
<text class="math"><tspan x="4.13" y="271.64" font-size="23.92" textLength="12.55" lengthAdjust="spacingAndGlyphs" class="it">v</tspan><tspan x="19.35" y="275.38" font-size="16.02" textLength="5.79" lengthAdjust="spacingAndGlyphs" class="it">i</tspan><tspan x="30.90" y="272.57" font-size="25.03" textLength="8.67" lengthAdjust="spacingAndGlyphs" class="up">(</tspan><tspan x="41.03" y="271.64" font-size="23.87" textLength="8.63" lengthAdjust="spacingAndGlyphs" class="it">t</tspan><tspan x="52.97" y="272.57" font-size="25.03" textLength="8.98" lengthAdjust="spacingAndGlyphs" class="up">)</tspan></text>
<text class="math"><tspan x="491.42" y="117.83" font-size="35.99" textLength="23.40" lengthAdjust="spacingAndGlyphs" class="it">u</tspan><tspan x="515.38" y="122.03" font-size="23.64" textLength="8.54" lengthAdjust="spacingAndGlyphs" class="it">i</tspan><tspan x="530.50" y="118.08" font-size="40.62" textLength="11.83" lengthAdjust="spacingAndGlyphs" class="up">(</tspan><tspan x="541.97" y="117.76" font-size="40.68" textLength="12.52" lengthAdjust="spacingAndGlyphs" class="it">t</tspan><tspan x="557.73" y="118.08" font-size="40.62" textLength="12.97" lengthAdjust="spacingAndGlyphs" class="up">)</tspan></text>
<text class="math"><tspan x="778.40" y="121.50" font-size="34.53" textLength="15.08" lengthAdjust="spacingAndGlyphs" class="it">y</tspan><tspan x="793.35" y="126.18" font-size="23.79" textLength="8.59" lengthAdjust="spacingAndGlyphs" class="it">i</tspan><tspan x="806.69" y="122.69" font-size="38.27" textLength="11.07" lengthAdjust="spacingAndGlyphs" class="up">(</tspan><tspan x="819.00" y="121.57" font-size="40.07" textLength="10.56" lengthAdjust="spacingAndGlyphs" class="it">t</tspan><tspan x="833.25" y="122.69" font-size="38.27" textLength="12.66" lengthAdjust="spacingAndGlyphs" class="up">)</tspan></text>
<text class="math"><tspan x="500.01" y="329.87" font-size="32.66" textLength="18.72" lengthAdjust="spacingAndGlyphs" class="it">a</tspan><tspan x="519.27" y="334.38" font-size="23.79" textLength="8.59" lengthAdjust="spacingAndGlyphs" class="it">i</tspan><tspan x="533.69" y="330.50" font-size="38.00" textLength="11.07" lengthAdjust="spacingAndGlyphs" class="up">(</tspan><tspan x="545.31" y="329.77" font-size="40.25" textLength="11.20" lengthAdjust="spacingAndGlyphs" class="it">t</tspan><tspan x="559.66" y="330.50" font-size="38.00" textLength="11.90" lengthAdjust="spacingAndGlyphs" class="up">)</tspan></text>
<text class="math"><tspan x="771.61" y="334.38" font-size="33.93" textLength="17.12" lengthAdjust="spacingAndGlyphs" class="it">x</tspan><tspan x="792.08" y="338.53" font-size="23.87" textLength="8.62" lengthAdjust="spacingAndGlyphs" class="it">i</tspan><tspan x="806.10" y="335.29" font-size="38.98" textLength="11.01" lengthAdjust="spacingAndGlyphs" class="up">(</tspan><tspan x="819.00" y="334.07" font-size="40.42" textLength="10.56" lengthAdjust="spacingAndGlyphs" class="it">t</tspan><tspan x="833.04" y="335.29" font-size="38.98" textLength="12.15" lengthAdjust="spacingAndGlyphs" class="up">)</tspan></text>
<text class="math"><tspan x="234.22" y="159.25" font-size="26.14" textLength="6.38" lengthAdjust="spacingAndGlyphs" class="it">t</tspan><tspan x="244.74" y="159.47" font-size="24.44" textLength="8.43" lengthAdjust="spacingAndGlyphs" class="up">(</tspan><tspan x="252.64" y="159.55" font-size="20.50" textLength="23.69" lengthAdjust="spacingAndGlyphs" class="it thin">m</tspan><tspan x="276.60" y="159.33" font-size="19.54" textLength="10.33" lengthAdjust="spacingAndGlyphs" class="it thin">s</tspan><tspan x="288.85" y="159.47" font-size="24.44" textLength="8.06" lengthAdjust="spacingAndGlyphs" class="up">)</tspan></text>
<text class="math"><tspan x="232.97" y="343.25" font-size="26.14" textLength="6.34" lengthAdjust="spacingAndGlyphs" class="it">t</tspan><tspan x="243.43" y="343.47" font-size="24.44" textLength="8.38" lengthAdjust="spacingAndGlyphs" class="up">(</tspan><tspan x="251.28" y="343.55" font-size="20.50" textLength="23.56" lengthAdjust="spacingAndGlyphs" class="it thin">m</tspan><tspan x="275.11" y="343.33" font-size="19.54" textLength="10.27" lengthAdjust="spacingAndGlyphs" class="it thin">s</tspan><tspan x="287.29" y="343.47" font-size="24.44" textLength="8.01" lengthAdjust="spacingAndGlyphs" class="up">)</tspan></text>
<text class="math"><tspan x="232.32" y="681.36" font-size="26.84" textLength="6.34" lengthAdjust="spacingAndGlyphs" class="it">t</tspan><tspan x="242.78" y="681.58" font-size="25.10" textLength="8.38" lengthAdjust="spacingAndGlyphs" class="up">(</tspan><tspan x="250.63" y="681.66" font-size="21.04" textLength="23.56" lengthAdjust="spacingAndGlyphs" class="it thin">m</tspan><tspan x="274.46" y="681.43" font-size="20.07" textLength="10.27" lengthAdjust="spacingAndGlyphs" class="it thin">s</tspan><tspan x="286.64" y="681.58" font-size="25.10" textLength="8.01" lengthAdjust="spacingAndGlyphs" class="up">)</tspan></text>
<text class="math"><tspan x="612.97" y="206.09" font-size="27.65" textLength="6.34" lengthAdjust="spacingAndGlyphs" class="it">t</tspan><tspan x="623.43" y="206.32" font-size="25.86" textLength="8.38" lengthAdjust="spacingAndGlyphs" class="up">(</tspan><tspan x="631.28" y="206.40" font-size="21.68" textLength="23.56" lengthAdjust="spacingAndGlyphs" class="it thin">m</tspan><tspan x="655.11" y="206.16" font-size="20.67" textLength="10.27" lengthAdjust="spacingAndGlyphs" class="it thin">s</tspan><tspan x="667.29" y="206.32" font-size="25.86" textLength="8.01" lengthAdjust="spacingAndGlyphs" class="up">)</tspan></text>
<text class="math"><tspan x="887.32" y="206.09" font-size="27.65" textLength="6.38" lengthAdjust="spacingAndGlyphs" class="it">t</tspan><tspan x="897.84" y="206.32" font-size="25.86" textLength="8.43" lengthAdjust="spacingAndGlyphs" class="up">(</tspan><tspan x="905.73" y="206.40" font-size="21.68" textLength="23.70" lengthAdjust="spacingAndGlyphs" class="it thin">m</tspan><tspan x="929.70" y="206.16" font-size="20.67" textLength="10.33" lengthAdjust="spacingAndGlyphs" class="it thin">s</tspan><tspan x="941.95" y="206.32" font-size="25.86" textLength="8.06" lengthAdjust="spacingAndGlyphs" class="up">)</tspan></text>
<text class="math"><tspan x="612.97" y="417.70" font-size="27.59" textLength="6.34" lengthAdjust="spacingAndGlyphs" class="it">t</tspan><tspan x="623.43" y="417.93" font-size="25.80" textLength="8.38" lengthAdjust="spacingAndGlyphs" class="up">(</tspan><tspan x="631.28" y="418.01" font-size="21.64" textLength="23.56" lengthAdjust="spacingAndGlyphs" class="it thin">m</tspan><tspan x="655.11" y="417.78" font-size="20.63" textLength="10.27" lengthAdjust="spacingAndGlyphs" class="it thin">s</tspan><tspan x="667.29" y="417.93" font-size="25.80" textLength="8.01" lengthAdjust="spacingAndGlyphs" class="up">)</tspan></text>
<text class="math"><tspan x="887.32" y="417.70" font-size="27.59" textLength="6.38" lengthAdjust="spacingAndGlyphs" class="it">t</tspan><tspan x="897.84" y="417.93" font-size="25.80" textLength="8.43" lengthAdjust="spacingAndGlyphs" class="up">(</tspan><tspan x="905.73" y="418.01" font-size="21.64" textLength="23.70" lengthAdjust="spacingAndGlyphs" class="it thin">m</tspan><tspan x="929.70" y="417.78" font-size="20.63" textLength="10.33" lengthAdjust="spacingAndGlyphs" class="it thin">s</tspan><tspan x="941.95" y="417.93" font-size="25.80" textLength="8.06" lengthAdjust="spacingAndGlyphs" class="up">)</tspan></text>
<text class="math"><tspan x="62.44" y="215.96" font-size="26.88" textLength="15.17" lengthAdjust="spacingAndGlyphs" class="up">×</tspan><tspan x="78.11" y="212.45" font-size="20.93" textLength="22.70" lengthAdjust="spacingAndGlyphs" class="up">10</tspan><tspan x="101.73" y="205.35" font-size="14.93" textLength="20.66" lengthAdjust="spacingAndGlyphs" class="up">−3</tspan></text>
</svg>
</body>
</html>
